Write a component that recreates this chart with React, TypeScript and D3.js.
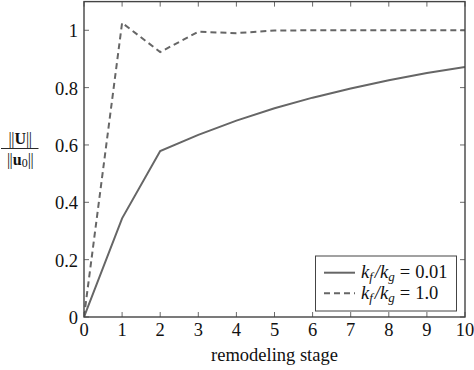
import React from "react";
import * as d3 from "d3";

const stages = [0, 1, 2, 3, 4, 5, 6, 7, 8, 9, 10];
const seriesLow = [0, 0.344, 0.579, 0.635, 0.685, 0.728, 0.765, 0.797, 0.826, 0.851, 0.872];
const seriesHigh = [0, 1.026, 0.924, 0.995, 0.99, 0.999, 1.0, 1.0, 1.0, 1.0, 1.0];
const xTicks = [0, 1, 2, 3, 4, 5, 6, 7, 8, 9, 10];
const yTicks = [0, 0.2, 0.4, 0.6, 0.8, 1];
const legendValues = ["0.01", "1.0"];

const W = 474, H = 370;
const L = 84, R = 465, T = 1.6, B = 317;
const FF = "Liberation Serif";
const lineColor = "#666";
const axisColor = "#444";
const textColor = "#111";

export default function App() {
  const x = d3.scaleLinear().domain([0, 10]).range([L, R]);
  const y = d3.scaleLinear().domain([0, 1.1]).range([B, T]);
  const line = d3.line<number>().x((_, i) => x(stages[i])).y((d) => y(d));
  const lx0 = 315.5, ly0 = 256, lw = 141, lh = 55;
  return (
    <svg width={W} height={H} style={{ position: "absolute", left: 0, top: 0, background: "#fff" }}>
      <defs>
        <clipPath id="clip">
          <rect x={L} y={T} width={R - L} height={B - T} />
        </clipPath>
      </defs>
      <rect width={W} height={H} fill="#fff" />
      {xTicks.map((t) => (
        <g key={"xt" + t} stroke={axisColor} strokeWidth={0.8}>
          <line x1={x(t)} x2={x(t)} y1={B} y2={B - 5} />
          <line x1={x(t)} x2={x(t)} y1={T} y2={T + 5} />
        </g>
      ))}
      {yTicks.map((t) => (
        <g key={"yt" + t} stroke={axisColor} strokeWidth={0.8}>
          <line x1={L} x2={L + 5} y1={y(t)} y2={y(t)} />
          <line x1={R} x2={R - 5} y1={y(t)} y2={y(t)} />
        </g>
      ))}
      <g clipPath="url(#clip)" fill="none" stroke={lineColor} strokeWidth={2}>
        <path d={line(seriesLow) || ""} />
        <path d={line(seriesHigh) || ""} strokeDasharray="6,4" />
      </g>
      <rect x={L} y={T} width={R - L} height={B - T} fill="none" stroke={axisColor} strokeWidth={1.4} />
      {xTicks.map((t) => (
        <text key={"xl" + t} x={x(t)} y={B + 19} textAnchor="middle" fontFamily={FF} fontSize={18.5} fill={textColor}>
          {t}
        </text>
      ))}
      {yTicks.map((t) => (
        <text key={"yl" + t} x={L - 6} y={y(t) + 7} textAnchor="end" fontFamily={FF} fontSize={18.5} fill={textColor}>
          {String(t)}
        </text>
      ))}
      <text x={(L + R) / 2} y={361} textAnchor="middle" fontFamily={FF} fontSize={18.5} fill={textColor}>
        remodeling stage
      </text>
      <g fontFamily={FF} fontSize={16} fill={textColor}>
        <text x={20} y={144} textAnchor="middle">
          <tspan letterSpacing={-0.5}>||</tspan>
          <tspan fontWeight="bold" dx={0.5}>U</tspan>
          <tspan letterSpacing={-0.5}>||</tspan>
        </text>
        <line x1={1} x2={38.5} y1={148.5} y2={148.5} stroke={textColor} strokeWidth={0.9} />
        <text x={20} y={165} textAnchor="middle">
          <tspan letterSpacing={-0.5}>||</tspan>
          <tspan fontWeight="bold" dx={0.5}>u</tspan>
          <tspan fontSize={12} dy={2}>0</tspan>
          <tspan dy={-2} letterSpacing={-0.5}>||</tspan>
        </text>
      </g>
      <rect x={lx0} y={ly0} width={lw} height={lh} fill="#fff" stroke={axisColor} strokeWidth={1} />
      <line x1={324} x2={355} y1={272.7} y2={272.7} stroke={lineColor} strokeWidth={2} />
      <line x1={324} x2={355} y1={293.3} y2={293.3} stroke={lineColor} strokeWidth={2} strokeDasharray="6,4" />
      {legendValues.map((v, i) => (
        <text key={v} x={361} y={278 + i * 20.6} fontFamily={FF} fontSize={18.5} fill={textColor}>
          <tspan fontStyle="italic">k</tspan>
          <tspan fontStyle="italic" fontSize={13} dy={3}>f</tspan>
          <tspan dy={-3} dx={2} fontStyle="italic">/k</tspan>
          <tspan fontStyle="italic" fontSize={13} dy={3}>g</tspan>
          <tspan dy={-3} dx={5}>=</tspan>
          <tspan dx={5}>{v}</tspan>
        </text>
      ))}
    </svg>
  );
}
